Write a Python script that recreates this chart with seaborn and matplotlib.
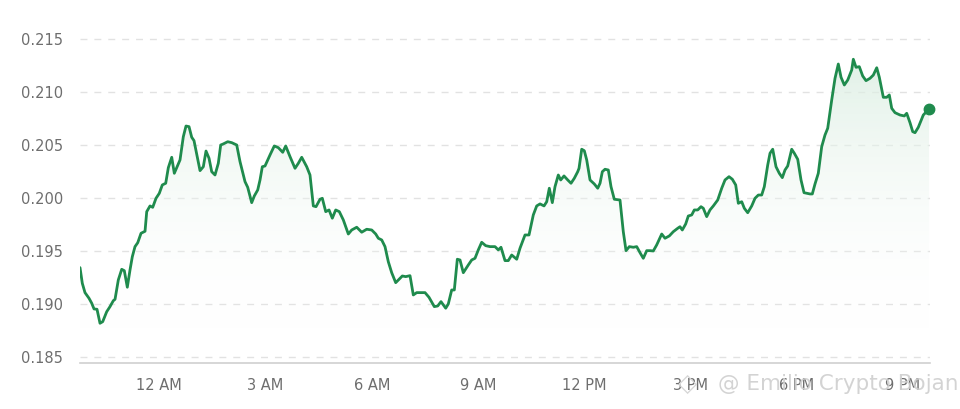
import numpy as np
import pandas as pd
import matplotlib
matplotlib.use("Agg")
import matplotlib.pyplot as plt
import seaborn as sns

# ---- data (hours since 12 AM, price) ----
hours = [
    -2.238, -2.173, -2.097, -1.984, -1.907, -1.842, -1.758, -1.673, -1.597, -1.484,
    -1.391, -1.297, -1.249, -1.156, -1.060, -0.987, -0.902, -0.826, -0.761, -0.685,
    -0.608, -0.515, -0.402, -0.354, -0.261, -0.185, -0.092, 0.001, 0.086, 0.182,
    0.256, 0.352, 0.425, 0.586, 0.679, 0.755, 0.840, 0.916, 0.981, 1.151,
    1.244, 1.320, 1.405, 1.481, 1.574, 1.667, 1.735, 1.808, 1.933, 2.046,
    2.187, 2.280, 2.421, 2.497, 2.610, 2.684, 2.780, 2.845, 2.910, 2.986,
    3.127, 3.248, 3.361, 3.486, 3.570, 3.692, 3.833, 3.926, 4.022, 4.163,
    4.256, 4.350, 4.426, 4.539, 4.604, 4.700, 4.793, 4.886, 4.982, 5.084,
    5.197, 5.338, 5.434, 5.575, 5.716, 5.857, 5.999, 6.112, 6.185, 6.281,
    6.374, 6.467, 6.563, 6.676, 6.769, 6.863, 6.959, 7.080, 7.173, 7.269,
    7.504, 7.616, 7.766, 7.862, 7.955, 8.088, 8.161, 8.257, 8.331, 8.416,
    8.492, 8.585, 8.726, 8.822, 8.915, 9.008, 9.104, 9.217, 9.339, 9.480,
    9.573, 9.649, 9.762, 9.855, 9.951, 10.093, 10.186, 10.327, 10.440, 10.561,
    10.657, 10.751, 10.864, 10.940, 11.013, 11.098, 11.174, 11.267, 11.335, 11.428,
    11.533, 11.626, 11.719, 11.815, 11.852, 11.928, 12.001, 12.069, 12.163, 12.284,
    12.380, 12.445, 12.510, 12.586, 12.679, 12.755, 12.848, 13.009, 13.102, 13.179,
    13.272, 13.385, 13.481, 13.574, 13.667, 13.763, 13.856, 13.949, 14.045, 14.187,
    14.280, 14.401, 14.514, 14.638, 14.703, 14.768, 14.864, 14.938, 15.034, 15.107,
    15.203, 15.296, 15.361, 15.457, 15.550, 15.644, 15.768, 15.881, 15.974, 16.087,
    16.180, 16.276, 16.350, 16.446, 16.519, 16.615, 16.728, 16.821, 16.915, 17.010,
    17.084, 17.180, 17.245, 17.321, 17.414, 17.507, 17.592, 17.668, 17.744, 17.857,
    17.931, 18.027, 18.120, 18.205, 18.281, 18.374, 18.439, 18.515, 18.608, 18.704,
    18.797, 18.874, 18.987, 19.080, 19.173, 19.250, 19.343, 19.439, 19.552, 19.597,
    19.673, 19.766, 19.862, 19.955, 20.068, 20.162, 20.258, 20.331, 20.444, 20.540,
    20.613, 20.681, 20.774, 20.915, 21.037, 21.104, 21.198, 21.274, 21.339, 21.432,
    21.573, 21.734,
]
prices = [
    0.19343, 0.19195, 0.19107, 0.19054, 0.19007, 0.18953, 0.18950, 0.18818, 0.18833, 0.18927,
    0.18975, 0.19031, 0.19044, 0.19227, 0.19327, 0.19314, 0.19158, 0.19321, 0.19446, 0.19541,
    0.19578, 0.19667, 0.19686, 0.19871, 0.19925, 0.19912, 0.19997, 0.20044, 0.20123, 0.20139,
    0.20286, 0.20384, 0.20233, 0.20359, 0.20578, 0.20679, 0.20673, 0.20573, 0.20541, 0.20258,
    0.20295, 0.20443, 0.20375, 0.20248, 0.20217, 0.20327, 0.20500, 0.20510, 0.20531, 0.20522,
    0.20500, 0.20343, 0.20154, 0.20101, 0.19956, 0.20019, 0.20076, 0.20170, 0.20295, 0.20302,
    0.20406, 0.20491, 0.20475, 0.20431, 0.20491, 0.20390, 0.20280, 0.20327, 0.20384, 0.20295,
    0.20217, 0.19925, 0.19918, 0.19988, 0.19997, 0.19871, 0.19887, 0.19809, 0.19887, 0.19871,
    0.19793, 0.19660, 0.19698, 0.19724, 0.19677, 0.19705, 0.19698, 0.19660, 0.19620, 0.19604,
    0.19541, 0.19399, 0.19295, 0.19201, 0.19233, 0.19264, 0.19258, 0.19267, 0.19085, 0.19107,
    0.19107, 0.19063, 0.18975, 0.18981, 0.19022, 0.18960, 0.19000, 0.19132, 0.19132, 0.19422,
    0.19415, 0.19295, 0.19368, 0.19415, 0.19431, 0.19510, 0.19582, 0.19550, 0.19541, 0.19541,
    0.19510, 0.19535, 0.19409, 0.19409, 0.19462, 0.19422, 0.19526, 0.19651, 0.19651, 0.19840,
    0.19925, 0.19944, 0.19925, 0.19965, 0.20092, 0.19956, 0.20107, 0.20217, 0.20170, 0.20208,
    0.20170, 0.20139, 0.20186, 0.20248, 0.20280, 0.20460, 0.20446, 0.20359, 0.20170, 0.20132,
    0.20092, 0.20139, 0.20248, 0.20271, 0.20264, 0.20107, 0.19988, 0.19981, 0.19682, 0.19503,
    0.19541, 0.19535, 0.19541, 0.19484, 0.19431, 0.19503, 0.19503, 0.19500, 0.19557, 0.19660,
    0.19620, 0.19642, 0.19682, 0.19714, 0.19729, 0.19698, 0.19755, 0.19830, 0.19840, 0.19887,
    0.19887, 0.19918, 0.19903, 0.19824, 0.19887, 0.19925, 0.19981, 0.20092, 0.20170, 0.20201,
    0.20177, 0.20123, 0.19950, 0.19965, 0.19903, 0.19861, 0.19925, 0.19997, 0.20028, 0.20028,
    0.20107, 0.20311, 0.20422, 0.20460, 0.20295, 0.20233, 0.20192, 0.20264, 0.20302, 0.20460,
    0.20422, 0.20365, 0.20170, 0.20050, 0.20045, 0.20038, 0.20038, 0.20132, 0.20233, 0.20484,
    0.20594, 0.20658, 0.20925, 0.21129, 0.21264, 0.21139, 0.21066, 0.21113, 0.21208, 0.21309,
    0.21233, 0.21239, 0.21151, 0.21107, 0.21129, 0.21160, 0.21229, 0.21139, 0.20950, 0.20950,
    0.20972, 0.20846, 0.20805, 0.20783, 0.20774, 0.20799, 0.20710, 0.20626, 0.20616, 0.20667,
    0.20783, 0.20840,
]
tick_hours = [0, 3, 6, 9, 12, 15, 18, 21]
tick_labels = ["12 AM", "3 AM", "6 AM", "9 AM", "12 PM", "3 PM", "6 PM", "9 PM"]
y_ticks = [0.185, 0.190, 0.195, 0.200, 0.205, 0.210, 0.215]

LINE = "#1f8b4d"
TEXT = "#6e6e6e"

df = pd.DataFrame({"hour": hours, "price": prices})

sns.set_style("white")
plt.rcParams["font.family"] = ["DejaVu Sans"]

fig = plt.figure(figsize=(9.6, 4.09), dpi=100)
ax = fig.add_axes([80 / 960, 46 / 409, 850 / 960, 333 / 409])

x_lo, x_hi = -2.238, 21.762
y_lo, y_hi = 0.18443, 0.21585

# gradient fill under the line, clipped to the area polygon
area = ax.fill_between(df["hour"], df["price"], y_lo, color="none", lw=0)
grad = np.linspace(0.0, 1.0, 256).reshape(-1, 1)
cmap = matplotlib.colors.LinearSegmentedColormap.from_list(
    "fade", [(1, 1, 1, 0), (0.85, 0.93, 0.88, 0.8)])
img = ax.imshow(grad, extent=[x_lo, x_hi, 0.1875, 0.2135], origin="lower",
                aspect="auto", cmap=cmap, zorder=1)
img.set_clip_path(area.get_paths()[0], transform=ax.transData)

sns.lineplot(data=df, x="hour", y="price", ax=ax, color=LINE, lw=2.0, zorder=3)
ax.plot(hours[-1], prices[-1], "o", color=LINE, ms=7.5, zorder=4, clip_on=False)

ax.set_xlim(x_lo, x_hi)
ax.set_ylim(y_lo, y_hi)

for v in y_ticks:
    ax.axhline(v, color="#e2e2e2", lw=1.0, ls=(0, (5, 5)), zorder=0)

ax.set_yticks(y_ticks)
ax.set_yticklabels([f"{v:.3f}" for v in y_ticks])
ax.set_xticks(tick_hours)
ax.set_xticklabels(tick_labels)
ax.tick_params(axis="both", length=0, colors=TEXT, labelsize=10.5)
ax.tick_params(axis="y", pad=12)
ax.tick_params(axis="x", pad=11)
ax.set_xlabel("")
ax.set_ylabel("")

for side in ["top", "right", "left"]:
    ax.spines[side].set_visible(False)
ax.spines["bottom"].set_color("#d0d0d0")
ax.spines["bottom"].set_linewidth(1.2)

# watermark
fig.text(688 / 960, 1 - 384 / 409, "\u25C7", color="#d6d6d6", fontsize=18,
         ha="center", va="center")
fig.text(958 / 960, 1 - 384 / 409, "@ Emilio Crypto Bojan", color="#cfcfcf",
         fontsize=15.5, ha="right", va="center", alpha=0.9)

fig.savefig("out.png", dpi=100)
